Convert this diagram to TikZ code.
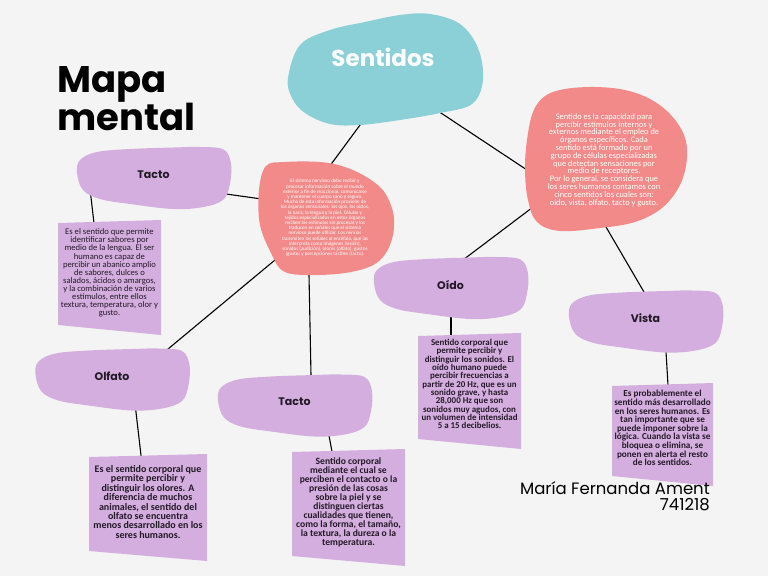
\documentclass[tikz,border=0pt]{standalone}
\usepackage{fontspec}
\setmainfont{Carlito}
\newfontfamily\poppins{Poppins}
\usepackage{tikz}
\usetikzlibrary{calc}
\definecolor{lila}{RGB}{212,174,222}
\definecolor{turquesa}{RGB}{139,208,214}
\definecolor{rosa}{RGB}{242,138,138}
\definecolor{gris}{RGB}{244,244,244}
\definecolor{tinta}{RGB}{35,25,40}
\pgfdeclarelayer{fondo}
\pgfdeclarelayer{manchas}
\pgfsetlayers{fondo,manchas,main}

% hoja lila bajo un texto: nodo, medio ancho, arriba, abajo
\newcommand{\hoja}[4]{%
  \fill[lila] ([shift={(-#2,-#3+3)}]#1.center) -- ([shift={(#2,-#3)}]#1.center)
    -- ([shift={(#2,#4)}]#1.center) -- ([shift={(-#2,#4-10)}]#1.center) -- cycle;}
% mancha lila bajo una etiqueta
\newcommand{\manchalila}[1]{%
  \fill[lila, shift={(#1.center)}] plot[smooth cycle, tension=0.6] coordinates {
    (-76.5,-1.5) (-73.5,-14.5) (-56.5,-22.5) (-23.5,-25.5) (20,-27) (46.5,-27.5)
    (70,-25) (77.5,-11) (76.5,9) (70,25) (50,32.5) (19.5,34.5) (-23.5,29.5)
    (-53.5,24.5) (-70.5,15.5)};}

\begin{document}
\begin{tikzpicture}[x=1pt,y=-1pt,
    titulo/.style={font=\poppins\bfseries\fontsize{37}{34}\selectfont, text=black, inner sep=0pt, align=left},
    etiqueta/.style={font=\poppins\bfseries\fontsize{11}{12}\selectfont, text=tinta, inner sep=0pt},
    texto/.style={align=center, inner sep=0pt, text=tinta},
    conector/.style={line width=1.1pt, black}]

    % Fondo
    \begin{pgfonlayer}{fondo}
        \fill[gris] (0,0) rectangle (768,576);
    \end{pgfonlayer}
    \useasboundingbox (0,0) rectangle (768,576);

    % Titulo
    \node[titulo, anchor=north west] (titulo) at (57,66) {Mapa\\mental};

    % Centro y definiciones
    \node[font=\poppins\bfseries\fontsize{23}{25}\selectfont, text=white, inner sep=0pt] (sent) at (383,57) {Sentidos};
    \node[texto, text=white, font=\fontsize{5.1}{5.2}\selectfont] (cp) at (325,218) {El sistema nervioso debe recibir y\\procesar información sobre el mundo\\exterior a fin de reaccionar, comunicarse\\y mantener el cuerpo sano y seguro.\\Mucha de esta información proviene de\\los órganos sensoriales: los ojos, los oídos,\\la nariz, la lengua y la piel. Células y\\tejidos especializados en estos órganos\\reciben los estímulos sin procesar y los\\traducen en señales que el sistema\\nervioso puede utilizar. Los nervios\\transmiten las señales al encéfalo, que las\\interpreta como imágenes (visión),\\sonidos (audición), olores (olfato), gustos\\(gusto) y percepciones táctiles (tacto).};
    \node[texto, text=white, font=\fontsize{8.4}{7.8}\selectfont] (rp) at (604,160) {Sentido es la capacidad para\\percibir estímulos internos y\\externos mediante el empleo de\\órganos específicos. Cada\\sentido está formado por un\\grupo de células especializadas\\que detectan sensaciones por\\medio de receptores.\\Por lo general, se considera que\\los seres humanos contamos con\\cinco sentidos los cuales son:\\oído, vista, olfato, tacto y gusto.};

    % Etiquetas
    \node[etiqueta] (tt) at (153.5,174.5) {Tacto};
    \node[etiqueta] (ol) at (112,376) {Olfato};
    \node[etiqueta] (tb) at (294.5,402) {Tacto};
    \node[etiqueta] (oi) at (450.5,284.5) {Oído};
    \node[etiqueta] (vi) at (645.5,318) {Vista};

    % Textos
    \node[texto, font=\fontsize{8.6}{8.1}\selectfont] (ttx) at (109.5,273) {Es el sentido que permite\\identificar sabores por\\medio de la lengua. El ser\\humano es capaz de\\percibir un abanico amplio\\de sabores, dulces o\\salados, ácidos o amargos,\\y la combinación de varios\\estímulos, entre ellos\\textura, temperatura, olor y\\gusto.};
    \node[texto, font=\bfseries\fontsize{8.9}{8.3}\selectfont] (oix) at (469.5,384) {Sentido corporal que\\permite percibir y\\distinguir los sonidos. El\\oído humano puede\\percibir frecuencias a\\partir de 20 Hz, que es un\\sonido grave, y hasta\\28,000 Hz que son\\sonidos muy agudos, con\\un volumen de intensidad\\5 a 15 decibelios.};
    \node[texto, font=\bfseries\fontsize{9.2}{8.6}\selectfont] (vix) at (662.5,428) {Es probablemente el\\sentido más desarrollado\\en los seres humanos. Es\\tan importante que se\\puede imponer sobre la\\lógica. Cuando la vista se\\bloquea o elimina, se\\ponen en alerta el resto\\de los sentidos.};
    \node[texto, font=\bfseries\fontsize{10}{9.4}\selectfont] (olx) at (148,502) {Es el sentido corporal que\\permite percibir y\\distinguir los olores. A\\diferencia de muchos\\animales, el sentido del\\olfato se encuentra\\menos desarrollado en los\\seres humanos.};
    \node[texto, font=\bfseries\fontsize{9.6}{9}\selectfont] (tbx) at (348.5,502) {Sentido corporal\\mediante el cual se\\perciben el contacto o la\\presión de las cosas\\sobre la piel y se\\distinguen ciertas\\cualidades que tienen,\\como la forma, el tamaño,\\la textura, la dureza o la\\temperatura.};

    % Autora
    \node[font=\poppins\fontsize{16.5}{16}\selectfont, align=right, anchor=base east, inner sep=0pt] (autora) at (710,510) {María Fernanda Ament\\741218};

    % Manchas
    \begin{pgfonlayer}{manchas}
        \fill[turquesa] plot[smooth cycle, tension=0.6] coordinates {
            (288,78) (300,45) (330,30) (365,22) (400,15) (430,14) (460,24) (478,48)
            (483,80) (472,104) (440,113) (400,120) (360,125) (330,124) (305,113) (292,98)};
        \fill[rosa] plot[smooth cycle, tension=0.6] coordinates {
            (266,166) (285,162) (320,162) (345,167) (368,178) (385,193) (394,218)
            (390,245) (375,264) (345,273) (305,275) (283,271) (272,255) (260,225) (259,190)};
        \fill[rosa] plot[smooth cycle, tension=0.6] coordinates {
            (533,112) (545,96) (565,89) (595,87) (625,90) (650,99) (670,114) (684,135)
            (687,158) (680,185) (662,208) (635,222) (600,228) (560,231) (537,222)
            (528,200) (525,170) (527,140)};
        \manchalila{tt}
        \manchalila{ol}
        \manchalila{tb}
        \manchalila{oi}
        \manchalila{vi}
        \hoja{ttx}{51.5}{53}{62}
        \hoja{oix}{51.5}{51}{65}
        \hoja{vix}{50.5}{45}{58}
        \hoja{olx}{59}{48}{59}
        \hoja{tbx}{56.5}{53}{64}
    \end{pgfonlayer}

    % Conectores
    \begin{pgfonlayer}{fondo}
        \draw[conector] ([shift={(-4.5,43)}]sent.center) -- ([shift={(-8.5,-34)}]cp.center);
        \draw[conector] ([shift={(21,31.5)}]sent.center) -- ([shift={(-64,18.6)}]rp.center);
        \draw[conector] ([shift={(-45,-16.4)}]cp.center) -- ([shift={(51.5,16.5)}]tt.center);
        \draw[conector] ([shift={(-64.5,5.5)}]tt.center) -- ([shift={(-14.5,-41)}]ttx.center);
        \draw[conector] ([shift={(-32,27)}]cp.center) -- ([shift={(32,-7)}]ol.center);
        \draw[conector] ([shift={(-16.4,37)}]cp.center) -- ([shift={(16.9,-7)}]tb.center);
        \draw[conector] ([shift={(22.7,25)}]ol.center) -- ([shift={(-5.3,-32)}]olx.center);
        \draw[conector] ([shift={(32.5,23)}]tb.center) -- ([shift={(-14,-37)}]tbx.center);
        \draw[conector] ([shift={(-55,35)}]rp.center) -- ([shift={(-3.5,-12.5)}]oi.center);
        \draw[conector] ([shift={(-5,55)}]rp.center) -- ([shift={(5.5,-14)}]vi.center);
        \draw[conector] ([shift={(0.5,20.5)}]oi.center) -- ([shift={(-18.5,-34)}]oix.center);
        \draw[conector] ([shift={(19.8,22)}]vi.center) -- ([shift={(6.1,-33)}]vix.center);
    \end{pgfonlayer}
\end{tikzpicture}
\end{document}
